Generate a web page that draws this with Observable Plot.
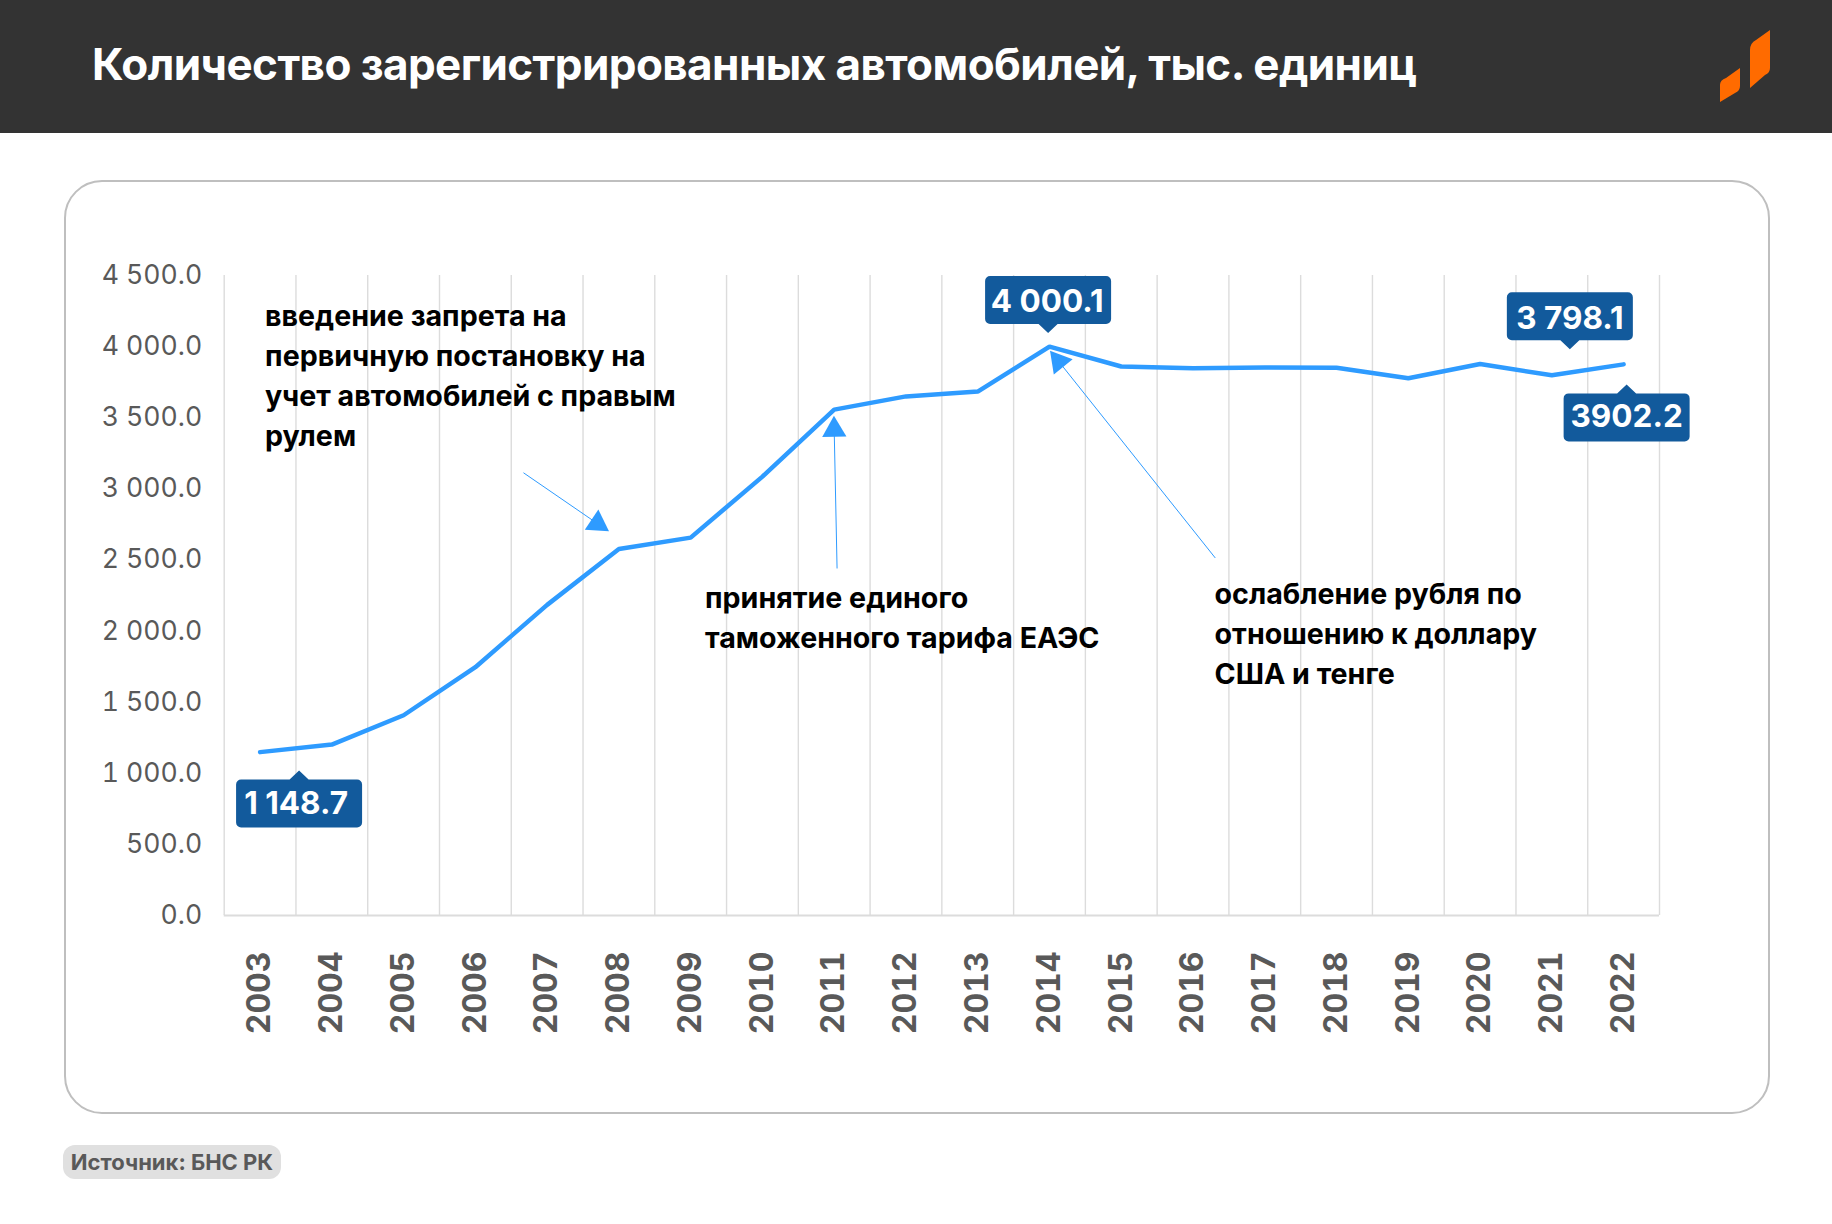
<!DOCTYPE html>
<html lang="ru">
<head>
<meta charset="utf-8">
<script src="https://cdn.jsdelivr.net/npm/d3@7"></script>
<script src="https://cdn.jsdelivr.net/npm/@observablehq/plot@0.6"></script>
<style>
  html, body { margin: 0; padding: 0; background: #fff; font-family: Inter, sans-serif; }
  body { width: 1832px; height: 1224px; overflow: hidden; position: relative; }
  header { height: 133px; background: #333333; position: relative; }
  header h1 { margin: 0; position: absolute; left: 92px; top: 34px; color: #fff; font: 700 44px/60px Inter, sans-serif; white-space: nowrap; letter-spacing: -0.57px; }
  header svg { position: absolute; left: 1715px; top: 25px; }
  #card { position: absolute; left: 64px; top: 180px; border: 2px solid #bfbfbf; border-radius: 38px; box-sizing: content-box; width: 1702px; height: 930px; }
  #chart { position: absolute; left: 0; top: 133px; }
  #chart svg { display: block; overflow: visible; }
  #source { position: absolute; left: 63px; top: 1145px; height: 34px; width: 218px; border-radius: 12px; background: #e0e0e0; color: #595959; font: 700 22px/34px Inter, sans-serif; text-align: center; white-space: nowrap; }
</style>
</head>
<body>
<header>
  <h1>Количество зарегистрированных автомобилей, тыс. единиц</h1>
  <svg width="60" height="82" viewBox="1715 25 60 82"><path fill="#ff6b00" d="M1770 30V68Q1770 73 1765 75L1750 88V50Q1750 43 1756 40ZM1740 68V86Q1740 91 1735 93L1720 102V85Q1720 80 1726 78Z"/></svg>
</header>
<div id="card"></div>
<div id="chart"></div>
<div id="source">Источник: БНС РК</div>
<script>
const years = [2003,2004,2005,2006,2007,2008,2009,2010,2011,2012,2013,2014,2015,2016,2017,2018,2019,2020,2021,2022];
const cars = [1148.7,1202,1408,1746,2184,2577,2657,3086,3557,3650,3684,4000.1,3860,3848,3854,3851,3777,3878,3798.1,3875];
const yTicks = [0,500,1000,1500,2000,2500,3000,3500,4000,4500];
const gridEdges = [2002.5,2003.5,2004.5,2005.5,2006.5,2007.5,2008.5,2009.5,2010.5,2011.5,2012.5,2013.5,2014.5,2015.5,2016.5,2017.5,2018.5,2019.5,2020.5,2021.5,2022.5];

const upYears = [2014, 2021];
const upLabels = ["4 000.1", "3 798.1"];
const upValues = [4000.1, 3798.1];
const downYears = [2003, 2022];
const downLabels = ["1 148.7", "3902.2"];
const downValues = [1148.7, 3875];

const notes = [
  "введение запрета на\nпервичную постановку на\nучет автомобилей с правым\nрулем",
  "принятие единого\nтаможенного тарифа ЕАЭС",
  "ослабление рубля по\nотношению к доллару\nСША и тенге"
];
const noteX = [2003.07, 2009.2, 2016.3];
const noteY = [3816, 2113, 2002];

const arrowFromX = [2006.67, 2011.04, 2016.31];
const arrowFromY = [3113, 2440, 2514];
const arrowToX = [2007.70, 2011.00, 2014.13];
const arrowToY = [2756, 3415, 3895];
const arrowAngle = [124, -1, -39];

const BLUE = "#2e9bff", NAVY = "#125a9c", GREY = "#595959", GRID = "#dcdcdc";
const fmt = d => d3.format(",.1f")(d).replace(/,/g, " ");

// Callout box with rounded corners and a tail; the origin is the tip of the tail.
function callout(dir) {
  return {draw(c) {
    const w = 63, h = 48, t = 9, r = 5, s = dir;
    const yn = s * t, yf = s * (t + h);
    c.moveTo(0, 0);
    c.lineTo(9.5, yn);
    c.lineTo(w - r, yn);
    c.arcTo(w, yn, w, yn + s * r, r);
    c.lineTo(w, yf - s * r);
    c.arcTo(w, yf, w - r, yf, r);
    c.lineTo(-w + r, yf);
    c.arcTo(-w, yf, -w, yf - s * r, r);
    c.lineTo(-w, yn + s * r);
    c.arcTo(-w, yn, -w + r, yn, r);
    c.lineTo(-9.5, yn);
    c.closePath();
  }};
}
const calloutText = {fill: "#fff", fontSize: 31.5, fontWeight: 700, fontFamily: "Inter, sans-serif", textAnchor: "middle", lineAnchor: "middle"};

const idx = a => a.map((_, i) => i);

const chart = Plot.plot({
  width: 1832,
  height: 997,
  marginLeft: 223.7,
  marginRight: 173,
  marginTop: 142,
  marginBottom: 215,
  style: {background: "transparent", fontFamily: "Inter, sans-serif", overflow: "visible"},
  x: {domain: [2002.5, 2022.5], label: null},
  y: {domain: [0, 4500], label: null},
  marks: [
    Plot.ruleX(gridEdges, {stroke: GRID, strokeWidth: 1.4}),
    Plot.ruleY([0], {stroke: GRID, strokeWidth: 1.8}),
    Plot.axisY({ticks: yTicks, tickSize: 0, tickPadding: 22, tickFormat: fmt, fontSize: 26.6, fill: GREY, fontWeight: 400, marginLeft: 223.7, label: null}),
    Plot.axisX({ticks: years, tickSize: 0, tickPadding: 36, tickFormat: d => String(d), tickRotate: -90, fontSize: 32, fontWeight: 700, fill: GREY, label: null}),
    Plot.lineY(years.map((y, i) => ({y, v: cars[i]})), {x: "y", y: "v", stroke: BLUE, strokeWidth: 4.5, strokeLinecap: "round", strokeLinejoin: "miter"}),
    // annotation leaders and their heads
    Plot.link(idx(notes), {x1: i => arrowFromX[i], y1: i => arrowFromY[i], x2: i => arrowToX[i], y2: i => arrowToY[i], stroke: BLUE, strokeWidth: 1}),
    Plot.dot(idx(notes), {x: i => arrowToX[i], y: i => arrowToY[i], symbol: "triangle", r: 9, rotate: i => arrowAngle[i], fill: BLUE, stroke: "none"}),
    Plot.text(idx(notes), {x: i => noteX[i], y: i => noteY[i], text: i => notes[i], textAnchor: "start", lineAnchor: "middle", lineHeight: 1.4, fontSize: 28.6, fontWeight: 700, fill: "#000", fontFamily: "Inter, sans-serif"}),
    // callouts above the line: 2014
    Plot.dot([0], {x: i => upYears[i], y: i => upValues[i], symbol: callout(-1), r: 5, fill: NAVY, stroke: "none", dx: -1.4, dy: -13.6}),
    Plot.text([0], {x: i => upYears[i], y: i => upValues[i], text: i => upLabels[i], dx: -2.4, dy: -45, ...calloutText}),
    // 2021
    Plot.dot([1], {x: i => upYears[i], y: i => upValues[i], symbol: callout(-1), r: 5, fill: NAVY, stroke: "none", dx: 18, dy: -26}),
    Plot.text([1], {x: i => upYears[i], y: i => upValues[i], text: i => upLabels[i], dx: 18, dy: -56, ...calloutText}),
    // 2003
    Plot.dot([0], {x: i => downYears[i], y: i => downValues[i], symbol: callout(1), r: 5, fill: NAVY, stroke: "none", dx: 39, dy: 18.4}),
    Plot.text([0], {x: i => downYears[i], y: i => downValues[i], text: i => downLabels[i], dx: 36, dy: 52, ...calloutText}),
    // 2022
    Plot.dot([1], {x: i => downYears[i], y: i => downValues[i], symbol: callout(1), r: 5, fill: NAVY, stroke: "none", dx: 3, dy: 20}),
    Plot.text([1], {x: i => downYears[i], y: i => downValues[i], text: i => downLabels[i], dx: 3, dy: 53, ...calloutText})
  ]
});
document.getElementById("chart").appendChild(chart);
</script>
</body>
</html>
